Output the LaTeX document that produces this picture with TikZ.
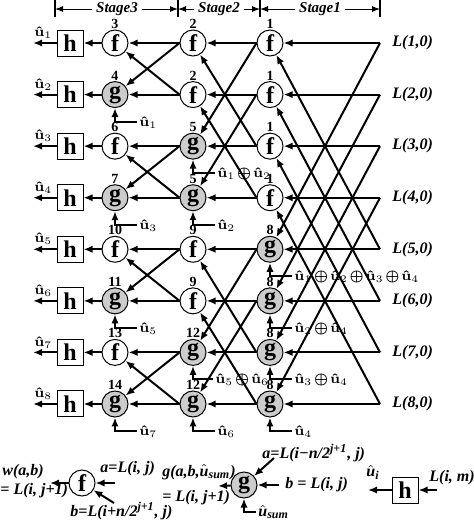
\documentclass[tikz,border=0pt]{standalone}
\usepackage{amsmath}
\usepackage{fontspec}
\setmainfont{Liberation Serif}
\usetikzlibrary{arrows.meta,positioning}

\newcommand{\uhat}[1]{\boldsymbol{\hat{\mathbf{u}}}_{#1}}
\newcommand{\xo}{\mskip-2mu\boldsymbol{\oplus}\mskip-2mu}

\tikzset{
  fnode/.style={circle, draw, line width=0.5pt, fill=white, minimum size=13pt, inner sep=0pt,
    font=\fontsize{12}{12}\selectfont\bfseries},
  gnode/.style={fnode, fill=black!20},
  hbox/.style={draw, line width=0.5pt, fill=white, minimum size=13pt, inner sep=0pt,
    font=\fontsize{12}{12}\selectfont\bfseries},
  wire/.style={line width=1pt, -{Latex[length=4.5pt,width=3.6pt]}},
  hdr/.style={line width=0.5pt, -{Latex[length=4pt,width=3pt]}},
  num/.style={font=\fontsize{7}{7}\selectfont\bfseries, inner sep=0.3pt},
  ulab/.style={font=\fontsize{7.5}{8}\selectfont\bfseries, inner sep=1pt, anchor=mid west},
  Llab/.style={font=\fontsize{8}{8}\selectfont\bfseries\itshape, inner sep=0pt},
  stage/.style={font=\fontsize{7.5}{8}\selectfont\bfseries\itshape, inner sep=2pt},
  legtxt/.style={font=\fontsize{8}{8}\selectfont\bfseries\itshape, inner sep=0pt, anchor=west},
}

\begin{document}
\begin{tikzpicture}[x=0.5pt, y=-0.5pt]
    \useasboundingbox (0,0) rectangle (474,526);

    % stages
    \foreach \x [count=\k] in {55,178,260,380} {
        \draw[line width=0.6pt] (\x,0) -- (\x,17);
        \coordinate (t\k) at (\x,9);
    }
    \node[stage] (st3) at (117,9) {Stage3};
    \node[stage] (st2) at (219,9) {Stage2};
    \node[stage] (st1) at (320,9) {Stage1};
    \draw[hdr] (st3) -- (t1);
    \draw[hdr] (st3) -- (t2);
    \draw[hdr] (st2) -- (t2);
    \draw[hdr] (st2) -- (t3);
    \draw[hdr] (st1) -- (t3);
    \draw[hdr] (st1) -- (t4);

    % decoder nodes
    \foreach \t/\n [count=\k] in {f/3,g/4,f/6,g/7,f/10,g/11,f/13,g/14}
        \node[\t node, label={[num]above:\n}] (s3n\k) at (115,{43+(\k-1)*51.57}) {\t};
    \foreach \t/\n [count=\k] in {f/2,f/2,g/5,g/5,f/9,f/9,g/12,g/12}
        \node[\t node, label={[num]above:\n}] (s2n\k) at (193,{43+(\k-1)*51.57}) {\t};
    \foreach \t/\n [count=\k] in {f/1,f/1,f/1,f/1,g/8,g/8,g/8,g/8}
        \node[\t node, label={[num]above:\n}] (s1n\k) at (270,{43+(\k-1)*51.57}) {\t};

    % channel LLRs
    \foreach \k in {1,...,8} {
        \coordinate (in\k) at (380,{43+(\k-1)*51.57});
        \node[Llab, anchor=west, right=6pt of in\k] (L\k) {L(\k,0)};
    }
    \foreach \k in {1,...,8}
        \draw[wire] (in\k) -- (s1n\k);
    \foreach \k/\j in {1/5,2/6,3/7,4/8,5/1,6/2,7/3,8/4}
        \draw[wire] (in\j) -- (s1n\k);

    % stage1 -> stage2 -> stage3
    \foreach \k in {1,...,8}
        \draw[wire] (s1n\k.west) -- (s2n\k);
    \foreach \k/\j in {1/3,2/4,3/1,4/2,5/7,6/8,7/5,8/6}
        \draw[wire] (s1n\j.west) -- (s2n\k);
    \foreach \k in {1,...,8}
        \draw[wire] (s2n\k.west) -- (s3n\k);
    \foreach \k/\j in {1/2,2/1,3/4,4/3,5/6,6/5,7/8,8/7}
        \draw[wire] (s2n\j.west) -- (s3n\k);

    % hard decisions
    \foreach \k in {1,...,8} {
        \node[hbox] (h\k) at (70,{43+(\k-1)*51.57}) {h};
        \coordinate (o\k) at (33,{43+(\k-1)*51.57});
        \draw[wire] (s3n\k) -- (h\k);
        \draw[wire] (h\k) -- (o\k);
        \node[ulab] (uo\k) at (32,{32+(\k-1)*51.57}) {$\uhat{\k}$};
    }

    % partial sums into g nodes
    \node[ulab] (p32) at (137,122) {$\uhat{1}$};
    \node[ulab] (p34) at (137,225) {$\uhat{3}$};
    \node[ulab] (p36) at (137,328) {$\uhat{5}$};
    \node[ulab] (p38) at (137,431) {$\uhat{7}$};
    \node[ulab] (p23) at (215,173) {$\uhat{1}\xo\uhat{2}$};
    \node[ulab] (p24) at (215,225) {$\uhat{2}$};
    \node[ulab] (p27) at (213,379) {$\uhat{5}\xo\uhat{6}$};
    \node[ulab] (p28) at (215,431) {$\uhat{6}$};
    \node[ulab] (p15) at (292,276) {$\uhat{1}\xo\uhat{2}\xo\uhat{3}\xo\uhat{4}$};
    \node[ulab] (p16) at (292,328) {$\uhat{2}\xo\uhat{4}$};
    \node[ulab] (p17) at (292,379) {$\uhat{3}\xo\uhat{4}$};
    \node[ulab] (p18) at (292,431) {$\uhat{4}$};
    \draw[wire] (p32.mid west) -| (s3n2.south);
    \draw[wire] (p34.mid west) -| (s3n4.south);
    \draw[wire] (p36.mid west) -| (s3n6.south);
    \draw[wire] (p38.mid west) -| (s3n8.south);
    \draw[wire] (p23.mid west) -| (s2n3.south);
    \draw[wire] (p24.mid west) -| (s2n4.south);
    \draw[wire] (p27.mid west) -| (s2n7.south);
    \draw[wire] (p28.mid west) -| (s2n8.south);
    \draw[wire] (p15.mid west) -| (s1n5.south);
    \draw[wire] (p16.mid west) -| (s1n6.south);
    \draw[wire] (p17.mid west) -| (s1n7.south);
    \draw[wire] (p18.mid west) -| (s1n8.south);

    % legend: f
    \node[fnode] (lf) at (82,483) {f};
    \node[legtxt] (lfw) at (2,472) {w(a,b)};
    \node[legtxt] (lfL) at (0,491) {= L(i, j+1)};
    \node[legtxt] (lfa) at (100,469) {a=L(i, j)};
    \node[legtxt] (lfb) at (70,511) {b=L(i+n/2\textsuperscript{j+1}, j)};
    \coordinate (lfo) at (50,483);
    \coordinate (lfai) at (115,483);
    \coordinate (lfbi) at (114,503);
    \draw[wire] (lf) -- (lfo);
    \draw[wire] (lfai) -- (lf);
    \draw[wire] (lfbi) -- (lf);

    % legend: g
    \node[gnode] (lg) at (244,485) {g};
    \node[legtxt] (lgw) at (162,472) {g(a,b,$\hat{\textbf{\textit{u}}}_{\textit{\textbf{sum}}}$)};
    \node[legtxt] (lgL) at (162,498) {= L(i, j+1)};
    \node[legtxt] (lga) at (262,453) {a=L(i−n/2\textsuperscript{j+1}, j)};
    \node[legtxt] (lgb) at (285,485) {b = L(i, j)};
    \node[ulab, font=\fontsize{8}{8}\selectfont\bfseries] (lgu) at (256,512) {$\hat{\textbf{\textit{u}}}_{\textit{\textbf{sum}}}$};
    \coordinate (lgo) at (218,486);
    \coordinate (lgai) at (274,458);
    \coordinate (lgbi) at (279,485);
    \draw[wire] (lg) -- (lgo);
    \draw[wire] (lgai) -- (lg);
    \draw[wire] (lgbi) -- (lg);
    \draw[wire] (lgu.mid west) -| (lg.south);

    % legend: h
    \node[hbox] (lh) at (405,490) {h};
    \node[legtxt] (lhL) at (429,478) {L(i, m)};
    \node[ulab, font=\fontsize{8}{8}\selectfont\bfseries] (lhu) at (364,472) {$\hat{\textbf{\textit{u}}}_{\textit{\textbf{i}}}$};
    \coordinate (lhi) at (437,490);
    \coordinate (lho) at (368,490);
    \draw[wire] (lhi) -- (lh);
    \draw[wire] (lh) -- (lho);
\end{tikzpicture}
\end{document}
